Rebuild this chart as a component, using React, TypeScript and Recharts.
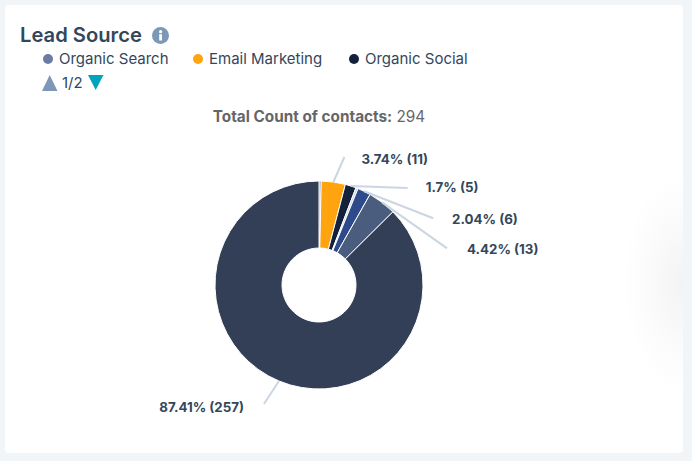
import { PieChart, Pie, Cell } from "recharts";

const FONT = "Inter, 'Noto Sans', sans-serif";

// slices run clockwise from 12 o'clock
const sliceNames = [
  "Organic Search",
  "Email Marketing",
  "Organic Social",
  "Referral",
  "Paid Social",
  "Direct Traffic",
  "Offline Sources",
];
const sliceValues = [1, 11, 5, 1, 6, 13, 257];
const sliceColors = ["#6b7ba4", "#ffa30f", "#14213d", "#c9d3e2", "#2d4a8a", "#4a5d7e", "#323f57"];
const labelTexts = ["", "3.74% (11)", "1.7% (5)", "", "2.04% (6)", "4.42% (13)", "87.41% (257)"];

const legendNames = ["Organic Search", "Email Marketing", "Organic Social"];
const legendColors = ["#6b7ba4", "#ffa30f", "#14213d"];

const data = sliceNames.map((name, i) => ({ name, value: sliceValues[i] }));

// label placement relative to each slice's outer edge
const CONNECTORS: Record<number, { end: [number, number]; text: [number, number]; anchor: "start" | "end" }> = {
  1: { end: [11, -25], text: [28, -23], anchor: "start" },
  2: { end: [57, 2], text: [75, 1], anchor: "start" },
  4: { end: [69, 27], text: [88, 28], anchor: "start" },
  5: { end: [65, 46], text: [85, 47], anchor: "start" },
  6: { end: [-15, 23], text: [-35, 26], anchor: "end" },
};

function SliceLabel(props: any) {
  const { cx, cy, midAngle, outerRadius, index } = props;
  const c = CONNECTORS[index];
  if (!c) return null;
  const rad = (-midAngle * Math.PI) / 180;
  const x = cx + outerRadius * Math.cos(rad);
  const y = cy + outerRadius * Math.sin(rad);
  return (
    <g>
      <line x1={x} y1={y} x2={x + c.end[0]} y2={y + c.end[1]} stroke="#cbd6e2" strokeWidth={2} />
      <text
        x={x + c.text[0]}
        y={y + c.text[1]}
        textAnchor={c.anchor}
        dominantBaseline="central"
        fill="#33475b"
        fontFamily={FONT}
        fontSize={13.3}
        fontWeight={700}
      >
        {labelTexts[index]}
      </text>
    </g>
  );
}

export default function App() {
  return (
    <div style={{ position: "fixed", left: 0, top: 0, width: 692, height: 461, background: "#f1f5f8", overflow: "hidden", fontFamily: FONT }}>
      <div
        style={{
          position: "absolute",
          left: 5,
          top: 5,
          width: 678,
          height: 448,
          borderRadius: 4,
          background: "radial-gradient(ellipse 60px 110px at 100% 62%, #f3f3f4 0%, #fbfbfb 60%, #ffffff 100%)",
        }}
      />
      <div style={{ position: "absolute", left: 20, top: 22, fontSize: 20.2, fontWeight: 600, color: "#33475b", lineHeight: "26px", whiteSpace: "nowrap" }}>
        Lead Source
      </div>
      <svg style={{ position: "absolute", left: 152, top: 27 }} width={17} height={17}>
        <circle cx={8.5} cy={8.5} r={8.5} fill="#7c98b6" />
        <rect x={7.2} y={7.2} width={2.8} height={6.3} fill="#fff" />
        <circle cx={8.6} cy={4.7} r={1.6} fill="#fff" />
      </svg>
      {legendNames.map((name, i) => (
        <div
          key={name}
          style={{
            position: "absolute",
            left: [43, 193, 349][i],
            top: 49,
            display: "flex",
            alignItems: "center",
            fontSize: 15,
            color: "#33475b",
            lineHeight: "20px",
            whiteSpace: "nowrap",
          }}
        >
          <span style={{ width: 10, height: 10, borderRadius: "50%", background: legendColors[i], marginRight: 6 }} />
          {name}
        </div>
      ))}
      <svg style={{ position: "absolute", left: 42, top: 75 }} width={17} height={16}>
        <polygon points="0,16 15.5,16 7.7,0" fill="#7c98b6" />
      </svg>
      <div style={{ position: "absolute", left: 62, top: 73, fontSize: 15, color: "#33475b", lineHeight: "20px" }}>1/2</div>
      <svg style={{ position: "absolute", left: 88, top: 75 }} width={16} height={16}>
        <polygon points="0,0 15.5,0 7.7,15" fill="#00a4bd" />
      </svg>
      <div style={{ position: "absolute", left: 0, width: 638, top: 107, textAlign: "center", fontSize: 15.3, color: "#666", lineHeight: "20px", whiteSpace: "nowrap" }}>
        <b>Total Count of contacts:</b> 294
      </div>
      <div style={{ position: "absolute", left: 0, top: 0 }}>
        <PieChart width={692} height={461} margin={{ top: 0, right: 0, bottom: 0, left: 0 }}>
          <Pie
            data={data}
            dataKey="value"
            nameKey="name"
            cx={319}
            cy={285}
            innerRadius={37}
            outerRadius={104}
            startAngle={90}
            endAngle={-270}
            stroke="#ffffff"
            strokeWidth={1}
            label={SliceLabel}
            labelLine={false}
            isAnimationActive={false}
          >
            {data.map((d, i) => (
              <Cell key={d.name} fill={sliceColors[i]} />
            ))}
          </Pie>
        </PieChart>
      </div>
    </div>
  );
}
